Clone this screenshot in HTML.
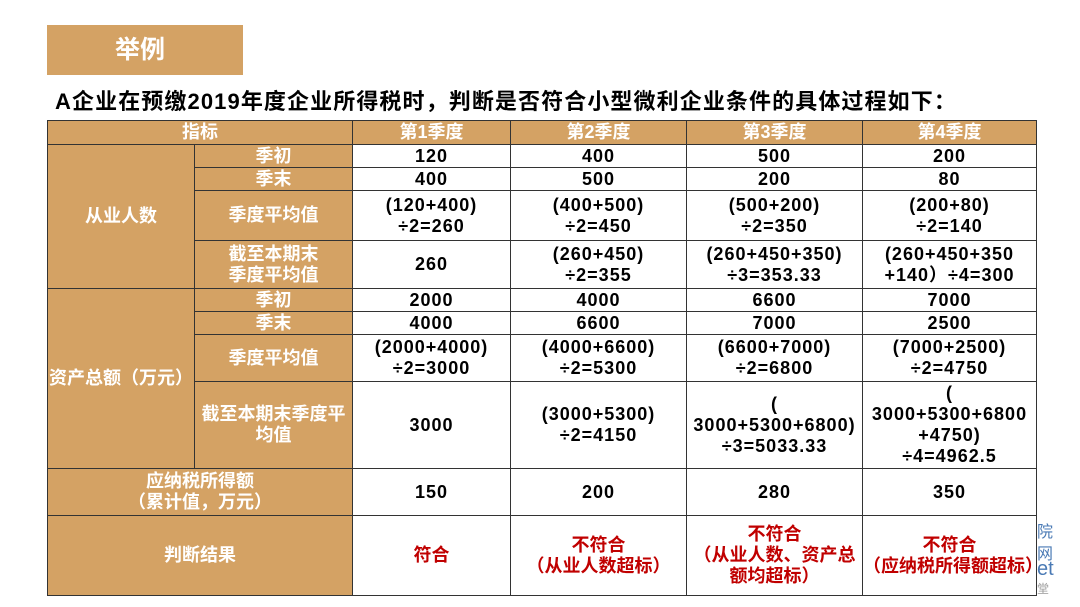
<!DOCTYPE html>
<html><head><meta charset="utf-8"><style>
body{margin:0;width:1080px;height:607px;background:#fff;position:relative;overflow:hidden;font-family:"Liberation Sans","Noto Sans CJK SC",sans-serif;font-weight:bold}
.tag{position:absolute;left:47px;top:25px;width:196px;height:50px;background:#d4a264;color:#fff;font-size:25px;line-height:50px;padding-left:68px;box-sizing:border-box}
.h{position:absolute;left:55px;top:84px;font-size:22px;color:#000;white-space:nowrap;letter-spacing:1.1px}
table{position:absolute;left:47px;top:120px;border-collapse:collapse;table-layout:fixed;width:989px}
td{border:1.5px solid #333;text-align:center;vertical-align:middle;font-size:18px;line-height:21px;padding:0;overflow:hidden;white-space:nowrap;letter-spacing:1px}
td.t{background:#d4a264;color:#fff;letter-spacing:0}
td.r{color:#c00000;letter-spacing:0}
.wm{position:absolute;left:1037px;color:#4a7ab5;font-size:16px;font-weight:normal}
</style></head><body>
<div class="tag">举例</div>
<div class="h">A企业在预缴2019年度企业所得税时，判断是否符合小型微利企业条件的具体过程如下：</div>
<table>
<colgroup><col style="width:147px"><col style="width:158px"><col style="width:158px"><col style="width:176px"><col style="width:176px"><col style="width:174px"></colgroup>
<tr style="height:24px"><td class="t" colspan="2">指标</td><td class="t">第1季度</td><td class="t">第2季度</td><td class="t">第3季度</td><td class="t">第4季度</td></tr>
<tr style="height:23px"><td class="t" rowspan="4">从业人数</td><td class="t">季初</td><td>120</td><td>400</td><td>500</td><td>200</td></tr>
<tr style="height:23px"><td class="t">季末</td><td>400</td><td>500</td><td>200</td><td>80</td></tr>
<tr style="height:50px"><td class="t">季度平均值</td><td>(120+400)<br>÷2=260</td><td>(400+500)<br>÷2=450</td><td>(500+200)<br>÷2=350</td><td>(200+80)<br>÷2=140</td></tr>
<tr style="height:48px"><td class="t">截至本期末<br>季度平均值</td><td>260</td><td>(260+450)<br>÷2=355</td><td>(260+450+350)<br>÷3=353.33</td><td>(260+450+350<br>+140）÷4=300</td></tr>
<tr style="height:23px"><td class="t" rowspan="4">资产总额（万元）</td><td class="t">季初</td><td>2000</td><td>4000</td><td>6600</td><td>7000</td></tr>
<tr style="height:23px"><td class="t">季末</td><td>4000</td><td>6600</td><td>7000</td><td>2500</td></tr>
<tr style="height:47px"><td class="t">季度平均值</td><td>(2000+4000)<br>÷2=3000</td><td>(4000+6600)<br>÷2=5300</td><td>(6600+7000)<br>÷2=6800</td><td>(7000+2500)<br>÷2=4750</td></tr>
<tr style="height:87px"><td class="t">截至本期末季度平<br>均值</td><td>3000</td><td>(3000+5300)<br>÷2=4150</td><td>(<br>3000+5300+6800)<br>÷3=5033.33</td><td>(<br>3000+5300+6800<br>+4750)<br>÷4=4962.5</td></tr>
<tr style="height:47px"><td class="t" colspan="2">应纳税所得额<br>（累计值，万元）</td><td>150</td><td>200</td><td>280</td><td>350</td></tr>
<tr style="height:80px"><td class="t" colspan="2">判断结果</td><td class="r">符合</td><td class="r">不符合<br>（从业人数超标）</td><td class="r">不符合<br>（从业人数、资产总<br>额均超标）</td><td class="r">不符合<br>（应纳税所得额超标）</td></tr>
</table>
<div class="wm" style="top:518px">院</div>
<div class="wm" style="top:540px">网</div>
<div class="wm" style="top:558px;font-size:20px">et</div>
<div class="wm" style="top:580px;color:#999;font-size:12px">堂</div>
</body></html>
